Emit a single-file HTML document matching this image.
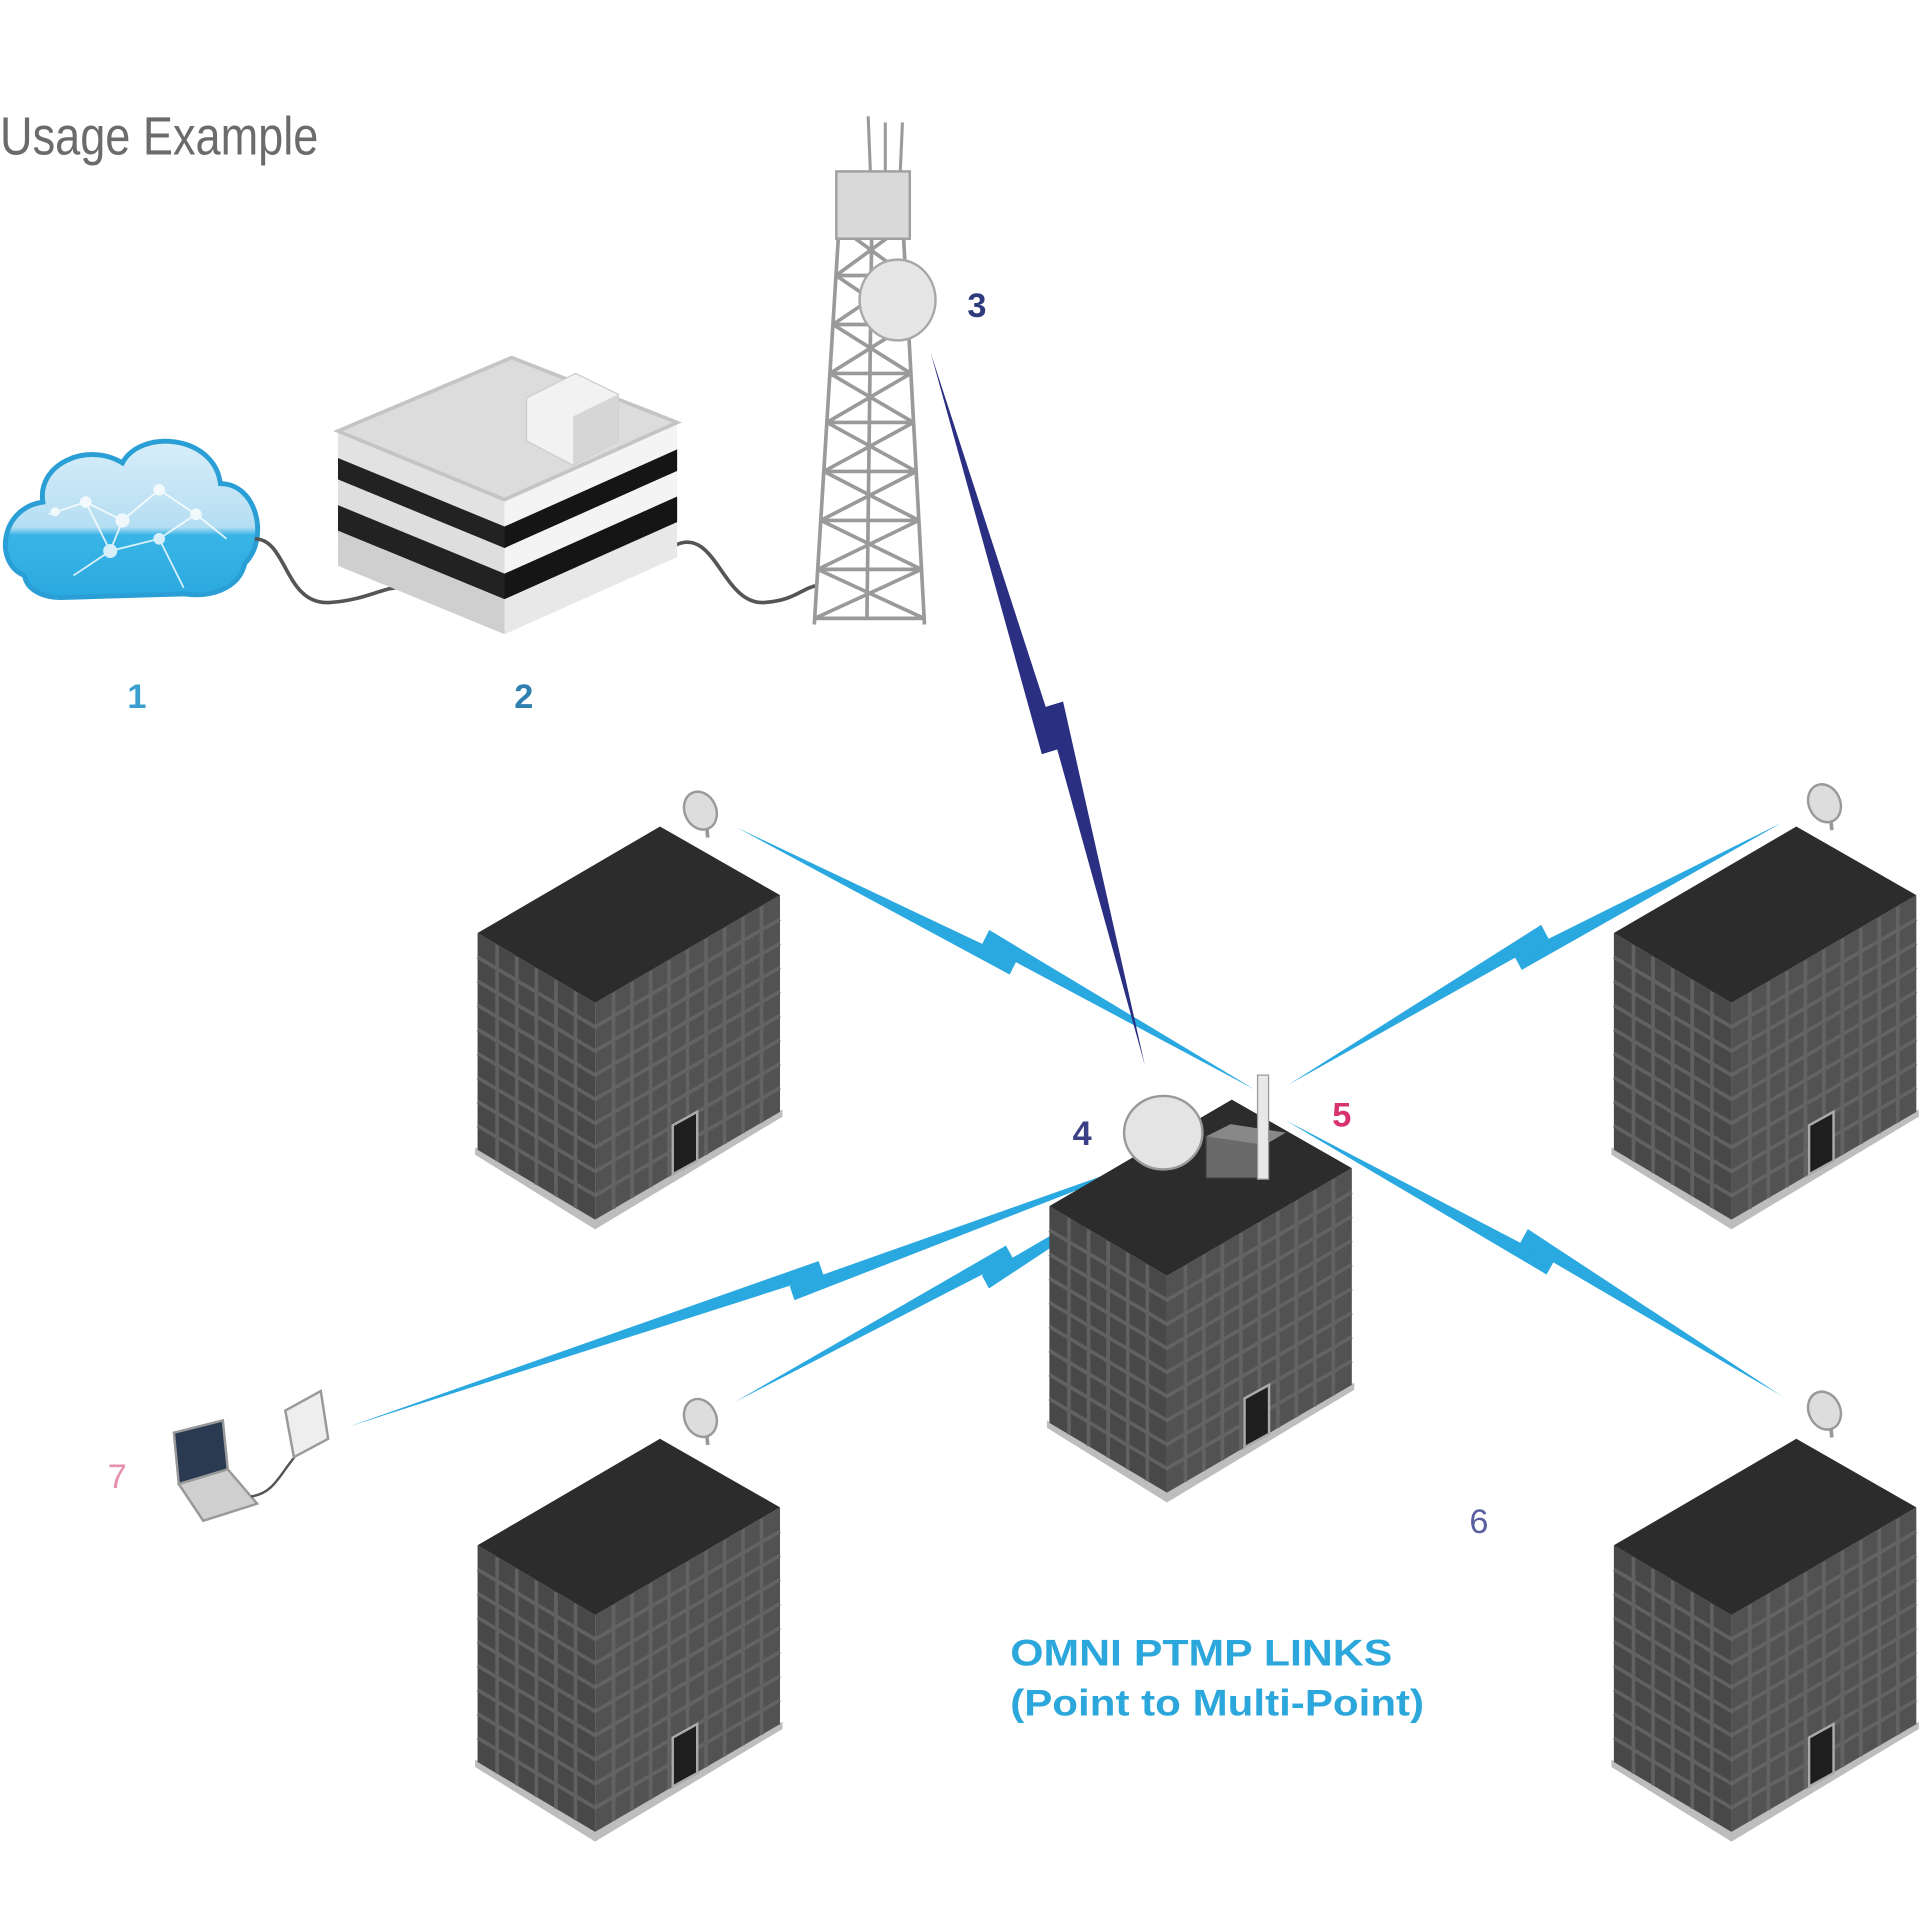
<!DOCTYPE html>
<html><head><meta charset="utf-8"><style>
html,body{margin:0;padding:0;background:#fff;}
svg{display:block;}
</style></head><body>
<svg id="s" width="1920" height="1920" viewBox="0 0 1568 1568" xmlns="http://www.w3.org/2000/svg">
<defs>
<linearGradient id="cl" x1="0" y1="0" x2="0" y2="1"><stop offset="0" stop-color="#d8eef9"/><stop offset="0.55" stop-color="#b5def3"/><stop offset="0.6" stop-color="#39b4e6"/><stop offset="1" stop-color="#2aa9e0"/></linearGradient>
</defs>
<rect width="1568" height="1568" fill="#fff"/>
<text x="0" y="126" font-family="Liberation Sans Narrow, Liberation Sans, sans-serif" font-size="44" fill="#6b6b6b" textLength="260" lengthAdjust="spacingAndGlyphs">Usage Example</text>
<!-- cloud -->
<path d="M20,470 C-5,460 0,415 35,410 C30,380 70,360 100,378 C115,350 175,355 180,395 C210,395 220,440 200,460 C195,482 170,488 150,485 L50,488 C35,488 22,482 20,470 Z" fill="url(#cl)" stroke="#2a9fd6" stroke-width="4"/>
<g stroke="#fff" stroke-width="1.5" opacity="0.8" fill="#fff">
<path d="M40,420 L70,410 L100,425 L130,400 L160,420 L185,440 M70,410 L90,450 L130,440 L160,420 M90,450 L60,470 M130,440 L150,480 M100,425 L90,450" fill="none"/>
<circle cx="70" cy="410" r="4"/><circle cx="100" cy="425" r="5"/><circle cx="130" cy="400" r="4"/><circle cx="160" cy="420" r="4"/><circle cx="90" cy="450" r="5"/><circle cx="130" cy="440" r="4"/><circle cx="45" cy="418" r="3"/>
</g>
<!-- cables -->
<path d="M208,440 C235,440 232,495 270,492 C300,490 315,478 330,480" fill="none" stroke="#555" stroke-width="3"/>
<path d="M552,445 C585,430 590,495 625,492 C650,490 655,480 668,478" fill="none" stroke="#555" stroke-width="3"/>
<g id="dyn"></g>
<!-- tower -->
<g stroke="#9a9a9a" stroke-width="3" fill="none">
<path d="M665,510 L688,140 M755,510 L735,140 M708,505 L712,180"/>
<path id="brace" d=""/>
<line x1="709" y1="95" x2="711" y2="145" stroke-width="2.5"/><line x1="723" y1="100" x2="723" y2="145" stroke-width="2.5"/><line x1="737" y1="100" x2="735" y2="145" stroke-width="2.5"/>
</g>
<rect x="683" y="140" width="60" height="55" fill="#d9d9d9" stroke="#a0a0a0" stroke-width="2"/>
<ellipse cx="733" cy="245" rx="31" ry="33" fill="#e6e6e6" stroke="#a8a8a8" stroke-width="2"/>
<!-- labels -->
<g font-family="Liberation Sans, sans-serif" font-weight="bold" font-size="28">
<text x="104" y="578" fill="#3a9fd0">1</text>
<text x="420" y="578" fill="#2f7fb0">2</text>
<text x="790" y="259" fill="#2e3a7c">3</text>
<text x="876" y="935" fill="#3a3f86">4</text>
<text x="1088" y="920" fill="#d8336f">5</text>
<text x="1200" y="1252" fill="#5a5fa0" font-weight="normal">6</text>
<text x="88" y="1215" fill="#e78fae" font-weight="normal">7</text>
<text x="825" y="1360" fill="#2ba7dc" font-size="30" textLength="312" lengthAdjust="spacingAndGlyphs">OMNI PTMP LINKS</text>
<text x="825" y="1401" fill="#2ba7dc" font-size="30" textLength="338" lengthAdjust="spacingAndGlyphs">(Point to Multi-Point)</text>
</g>
</svg>
<script>
const NS="http://www.w3.org/2000/svg";
const dyn=document.getElementById("dyn");
function el(t,a,p){const e=document.createElementNS(NS,t);for(const k in a)e.setAttribute(k,a[k]);(p||dyn).appendChild(e);return e;}
function pts(a){return a.map(p=>p[0].toFixed(1)+","+p[1].toFixed(1)).join(" ");}
(function(){let d="";for(let i=0;i<9;i++){const y1=505-i*40,y2=y1-40;const l=(y)=>665+(510-y)*(23/370),r=(y)=>755-(510-y)*(20/370);d+=`M${l(y1)},${y1} L${r(y2)},${y2} M${r(y1)},${y1} L${l(y2)},${y2} M${l(y1)},${y1} L${r(y1)},${y1} `;}document.getElementById("brace").setAttribute("d",d);})();
(function(){const L=[276,352],T=[418,292],R=[553,345],F=[412,408],H=110;
const bands=[[0,.2,"#f4f4f4","#e2e2e2"],[.2,.36,"#151515","#222"],[.36,.55,"#f4f4f4","#dedede"],[.55,.74,"#151515","#222"],[.74,1,"#e8e8e8","#cfcfcf"]];
bands.forEach(b=>{const a=b[0]*H,c=b[1]*H;
el("polygon",{points:pts([[L[0],L[1]+a],[F[0],F[1]+a],[F[0],F[1]+c],[L[0],L[1]+c]]),fill:b[3]});
el("polygon",{points:pts([[F[0],F[1]+a],[R[0],R[1]+a],[R[0],R[1]+c],[F[0],F[1]+c]]),fill:b[2]});});
el("polygon",{points:pts([L,T,R,F]),fill:"#dcdcdc",stroke:"#c4c4c4","stroke-width":3});
el("polygon",{points:pts([[430,325],[470,305],[505,322],[505,360],[468,380],[430,360]]),fill:"#f2f2f2",stroke:"#ccc"});
el("polygon",{points:pts([[468,340],[505,322],[505,360],[468,380]]),fill:"#d6d6d6"});
})();
function bldg(x,y){const L=[x,y],T=[x+149,y-87],R=[x+247,y-31],F=[x+96,y+57],H=177;
el("polygon",{points:pts([[L[0]-2,L[1]+H-2],[F[0],F[1]+H-2],[R[0]+2,R[1]+H-2],[R[0]+2,R[1]+H+4],[F[0],F[1]+H+8],[L[0]-2,L[1]+H+4]]),fill:"#bdbdbd"});
el("polygon",{points:pts([L,F,[F[0],F[1]+H],[L[0],L[1]+H]]),fill:"#484848"});
el("polygon",{points:pts([F,R,[R[0],R[1]+H],[F[0],F[1]+H]]),fill:"#525252"});
let d="";for(let i=1;i<9;i++){const o=i*H/9;d+=`M${L[0]},${L[1]+o} L${F[0]},${F[1]+o} L${R[0]},${R[1]+o} `;}
for(let i=1;i<6;i++){const t=i/6;const px=L[0]+(F[0]-L[0])*t,py=L[1]+(F[1]-L[1])*t;d+=`M${px},${py} L${px},${py+H} `;}
for(let i=1;i<10;i++){const t=i/10;const px=F[0]+(R[0]-F[0])*t,py=F[1]+(R[1]-F[1])*t;d+=`M${px},${py} L${px},${py+H} `;}
el("path",{d:d,stroke:"#6a6a6a","stroke-width":3,fill:"none",opacity:.75});
el("polygon",{points:pts([L,T,R,F]),fill:"#2c2c2c"});
const t=.42,dx=F[0]+(R[0]-F[0])*t,dy=F[1]+(R[1]-F[1])*t+H;
el("polygon",{points:pts([[dx,dy],[dx+20,dy-11],[dx+20,dy-51],[dx,dy-40]]),fill:"#1e1e1e",stroke:"#aaa","stroke-width":2});
}
function dish(x,y,r){el("line",{x1:x+4,y1:y,x2:x+6,y2:y+22,stroke:"#999","stroke-width":3});el("ellipse",{cx:x,cy:y,rx:r*.8,ry:r,fill:"#ddd",stroke:"#999","stroke-width":2,transform:`rotate(-25 ${x} ${y})`});}
function bolt(p0,p1,f,w,j,col){const dx=p1[0]-p0[0],dy=p1[1]-p0[1],Ln=Math.hypot(dx,dy),u=[dx/Ln,dy/Ln],n=[-u[1],u[0]];
const P=(a,b)=>[p0[0]+u[0]*a+n[0]*b,p0[1]+u[1]*a+n[1]*b];const Lh=Ln*f,s=w*1.2;
el("polygon",{points:pts([P(0,0),P(Lh+s,w/2),P(Lh+s,-w/2)]),fill:col});
el("polygon",{points:pts([P(Lh+s,-w/2),P(Lh+s,w/2),P(Lh-s,j+w/2),P(Lh-s,j-w/2)]),fill:col});
el("polygon",{points:pts([P(Lh-s,j+w/2),P(Lh-s,j-w/2),P(Ln,0)]),fill:col});}
bldg(390,762);bldg(1318,762);bldg(390,1262);bldg(1318,1262);
dish(572,662,16);dish(1490,656,16);dish(572,1158,16);dish(1490,1152,16);
const B="#2aa8e0";
bolt([602,676],[1025,890],.5,13,-12,B);
bolt([1455,672],[1052,886],.5,13,12,B);
bolt([1050,915],[1455,1140],.5,13,-12,B);
bolt([285,1165],[1000,925],.52,12,12,B);
bolt([600,1145],[985,935],.55,12,12,B);
bolt([760,288],[935,870],.53,15,-14,"#2b2f82");
bldg(857,985);
el("rect",{x:985,y:928,width:48,height:34,fill:"#6a6a6a",stroke:"#444"});
el("polygon",{points:pts([[985,928],[1005,918],[1050,925],[1033,935]]),fill:"#888"});
el("rect",{x:1027,y:878,width:9,height:85,fill:"#e8e8e8",stroke:"#999"});
el("ellipse",{cx:950,cy:925,rx:32,ry:30,fill:"#e4e4e4",stroke:"#999","stroke-width":2});
el("polygon",{points:pts([[142,1170],[182,1160],[186,1200],[146,1212]]),fill:"#2a3a50",stroke:"#999","stroke-width":2});
el("polygon",{points:pts([[146,1212],[186,1200],[210,1228],[166,1242]]),fill:"#cfcfcf",stroke:"#999","stroke-width":2});
el("path",{d:"M205,1222 C225,1220 230,1200 245,1185",stroke:"#555","stroke-width":2,fill:"none"});
el("polygon",{points:pts([[233,1152],[262,1136],[268,1175],[240,1190]]),fill:"#eee",stroke:"#999","stroke-width":2});
</script>
</body></html>
